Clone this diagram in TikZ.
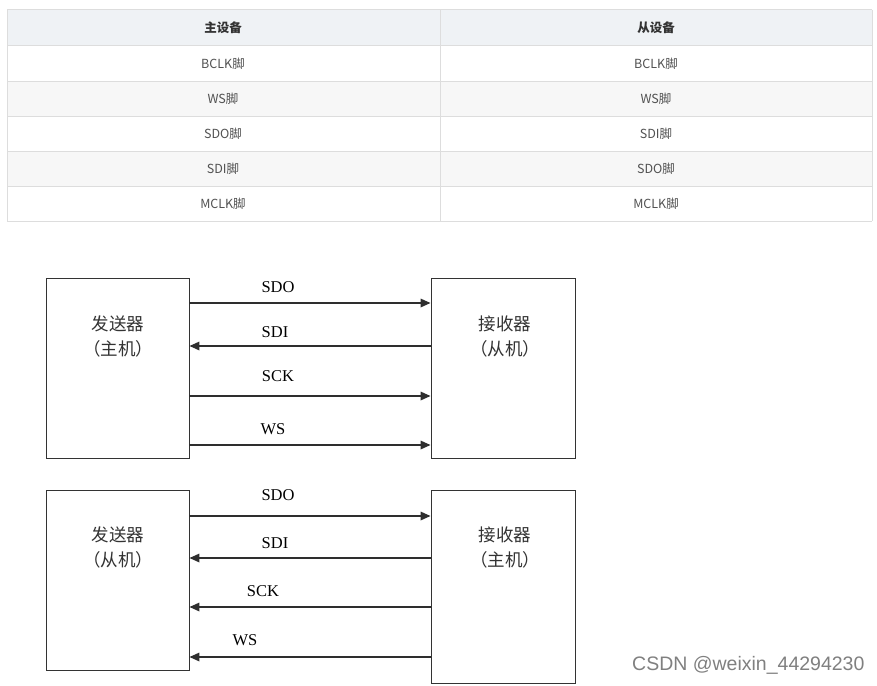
\documentclass[tikz,border=0pt]{standalone}
\usepackage{fontspec}
\setmainfont{Liberation Serif}
\newfontfamily\cjk{Noto Sans CJK SC}
\newfontfamily\wmfont{Liberation Sans}
\usetikzlibrary{arrows.meta,positioning}
\definecolor{hd}{RGB}{239,242,245}
\definecolor{alt}{RGB}{247,247,247}
\definecolor{grid}{RGB}{221,221,221}
\definecolor{ink}{RGB}{51,51,51}
\tikzstyle{cell} = [font=\cjk\fontsize{12.5}{14}\selectfont, text=ink!85]
\tikzstyle{dev} = [draw=ink, line width=0.9pt, minimum width=143pt, minimum height=180pt, inner sep=0pt]
\tikzstyle{devtxt} = [font=\cjk\fontsize{17.5}{25}\selectfont, text=ink, align=center]
\tikzstyle{sig} = [font=\fontsize{16.5}{18}\selectfont]
\tikzstyle{wire} = [line width=1.7pt, draw=ink!90!black]
\newcommand{\pinrow}[4]{%
  \node[cell] (m#1) at (223,#2) {#3脚};
  \node[cell] (s#1) at (656,#2) {#4脚};}

\begin{document}
\begin{tikzpicture}[x=1pt, y=-1pt, >={Triangle[length=10pt,width=8.5pt]}]
    \useasboundingbox (0,0) rectangle (877,685);
    \fill[white] (0,0) rectangle (877,685);

    % table
    \fill[hd]  (7,10)  rectangle (872,46);
    \fill[alt] (7,81)  rectangle (872,116);
    \fill[alt] (7,151) rectangle (872,186);
    \foreach \y in {10,46,81,116,151,186,221}
        \draw[grid, line width=1pt] (7,\y) -- (872,\y);
    \draw[grid, line width=1pt] (7,10) -- (7,221);
    \draw[grid, line width=0.7pt] (440,10) -- (440,221);
    \draw[grid, line width=1pt] (872,10) -- (872,221);

    \node[cell, font=\cjk\bfseries\fontsize{12.5}{14}\selectfont, text=ink] (mhead) at (223,28) {主设备};
    \node[cell, font=\cjk\bfseries\fontsize{12.5}{14}\selectfont, text=ink] (shead) at (656,28) {从设备};
    \pinrow{1}{63.5}{BCLK}{BCLK}
    \pinrow{2}{98.5}{WS}{WS}
    \pinrow{3}{133.5}{SDO}{SDI}
    \pinrow{4}{168.5}{SDI}{SDO}
    \pinrow{5}{203.5}{MCLK}{MCLK}

    % master transmits
    \node[dev] (tx1) at (117.5,368) {};
    \node[dev, minimum width=144pt] (rx1) at (503,368) {};
    \node[devtxt] (tx1t) at (118,336) {发送器\\（主机）};
    \node[devtxt] (rx1t) at (505,336) {接收器\\（从机）};

    \draw[wire, ->] (tx1.east |- 0,303) -- (rx1.west |- 0,303);
    \draw[wire, <-] (tx1.east |- 0,346) -- (rx1.west |- 0,346);
    \draw[wire, ->] (tx1.east |- 0,396) -- (rx1.west |- 0,396);
    \draw[wire, ->] (tx1.east |- 0,445) -- (rx1.west |- 0,445);
    \node[sig] (sdo1) at (278,287) {SDO};
    \node[sig] (sdi1) at (275,332) {SDI};
    \node[sig] (sck1) at (278,376) {SCK};
    \node[sig] (ws1)  at (273,429) {WS};

    % master receives
    \node[dev] (tx2) at (117.5,580) {};
    \node[dev, minimum width=144pt, minimum height=193pt] (rx2) at (503,586.5) {};
    \node[devtxt] (tx2t) at (118,547) {发送器\\（从机）};
    \node[devtxt] (rx2t) at (505,547) {接收器\\（主机）};

    \draw[wire, ->] (tx2.east |- 0,516) -- (rx2.west |- 0,516);
    \draw[wire, <-] (tx2.east |- 0,558) -- (rx2.west |- 0,558);
    \draw[wire, <-] (tx2.east |- 0,607) -- (rx2.west |- 0,607);
    \draw[wire, <-] (tx2.east |- 0,657) -- (rx2.west |- 0,657);
    \node[sig] (sdo2) at (278,495) {SDO};
    \node[sig] (sdi2) at (275,543) {SDI};
    \node[sig] (sck2) at (263,591) {SCK};
    \node[sig] (ws2)  at (245,640) {WS};

    \node[font=\wmfont\fontsize{19.5}{22}\selectfont, text=black!50, anchor=west, inner sep=0pt] (mark) at (632,665) {CSDN @weixin\_44294230};
\end{tikzpicture}
\end{document}
